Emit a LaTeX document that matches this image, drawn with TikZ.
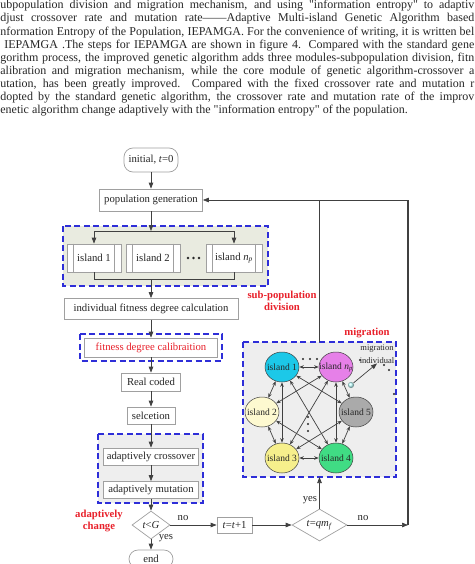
\documentclass[tikz,border=0pt]{standalone}
\usepackage{fontspec}
\setmainfont{Liberation Serif}
\usetikzlibrary{arrows.meta,shapes.geometric}
\definecolor{boxline}{HTML}{A0A0A0}
\definecolor{arrowgray}{HTML}{404040}
\definecolor{txt}{HTML}{262626}
\definecolor{dashblue}{HTML}{2E2ED8}
\definecolor{labelred}{HTML}{E8202A}
\definecolor{subfill}{HTML}{E9EBE0}
\definecolor{greyfill}{HTML}{EEEEEE}
\definecolor{isla}{HTML}{1CC8E8}
\definecolor{islb}{HTML}{FDF9D0}
\definecolor{islc}{HTML}{F6EF8C}
\definecolor{isld}{HTML}{40DC84}
\definecolor{isle}{HTML}{AAAAAA}
\definecolor{islnp}{HTML}{E680E8}
\newcommand{\boxfont}{\fontsize{10.7}{12}\selectfont}
\newcommand{\parfont}{\fontsize{12}{13}\selectfont}
\newcommand{\isltxt}[1]{\makebox[0pt]{#1}}
\newcommand{\np}{\textit{n}\textsubscript{\textit{p}}}
\tikzset{
  box/.style={draw=boxline, fill=white, font=\boxfont, text=txt, inner sep=0pt},
  term/.style={box, rounded corners=9pt},
  decide/.style={box, diamond, aspect=1.6},
  isl/.style={box, minimum height=28pt},
  flow/.style={draw=arrowgray, -{Triangle[length=6pt,width=4.5pt]}},
  gflow/.style={draw=arrowgray, {Stealth[length=4.5pt,width=3.5pt]}-{Stealth[length=4.5pt,width=3.5pt]}},
  bluedash/.style={draw=dashblue, line width=1.4pt, dash pattern=on 6pt off 3.5pt},
  redlbl/.style={font=\boxfont\bfseries, text=labelred, align=center, inner sep=0pt},
  lbl/.style={font=\boxfont, text=txt, inner sep=0pt},
  ellip/.style={ellipse, draw=arrowgray, line width=0.5pt, minimum width=34pt, minimum height=30pt, inner sep=0pt, font=\fontsize{9.5}{10}\selectfont, text=txt},
  partext/.style={anchor=west, inner sep=0pt, font=\parfont, text=txt}
}
\begin{document}
\begin{tikzpicture}[x=1pt, y=-1pt, line width=0.7pt]
\useasboundingbox (0,0) rectangle (474,564);
% text of the page above the figure
\node[partext] (par1) at (0,6) {\makebox[474pt][s]{ubpopulation division and migration mechanism, and using \textquotedbl information entropy\textquotedbl{} to adaptiv}};
\node[partext] (par2) at (0,19.1) {\makebox[474pt][s]{djust crossover rate and mutation rate——Adaptive Multi-island Genetic Algorithm based}};
\node[partext] (par3) at (0,32.2) {\makebox[474pt][s]{nformation Entropy of the Population, IEPAMGA. For the convenience of writing, it is written bel}};
\node[partext] (par4) at (4,45.3) {\makebox[470pt][s]{IEPAMGA .The steps for IEPAMGA are shown in figure 4. Compared with the standard gene}};
\node[partext] (par5) at (0,58.4) {\makebox[474pt][s]{gorithm process, the improved genetic algorithm adds three modules-subpopulation division, fitn}};
\node[partext] (par6) at (0,71.5) {\makebox[474pt][s]{alibration and migration mechanism, while the core module of genetic algorithm-crossover a}};
\node[partext] (par7) at (0,84.6) {\makebox[474pt][s]{utation, has been greatly improved. Compared with the fixed crossover rate and mutation r}};
\node[partext] (par8) at (0,97.7) {\makebox[474pt][s]{dopted by the standard genetic algorithm, the crossover rate and mutation rate of the improv}};
\node[partext] (par9) at (0,110.8) {enetic algorithm change adaptively with the \textquotedbl information entropy\textquotedbl{} of the population.};
%
\node[term, minimum width=54pt, minimum height=24pt] (init) at (151,160) {initial, \textit{t}=0};
\node[box, minimum width=103pt, minimum height=22pt] (popgen) at (151,200) {population generation};
\draw[flow] (init) -- (popgen);
% sub-population division
\draw[bluedash, fill=subfill] (63,226) rectangle (268,286);
\node[isl, minimum width=54pt] (isl1) at (94,258) {island 1};
\node[isl, minimum width=54pt] (isl2) at (153,258) {island 2};
\node[isl, minimum width=56pt] (islnp) at (234,258) {island \np};
\foreach \n in {isl1,isl2,islnp}{
  \draw[boxline, line width=0.6pt] ([xshift=7pt]\n.north west) -- ([xshift=7pt]\n.south west);
  \draw[boxline, line width=0.6pt] ([xshift=-7pt]\n.north east) -- ([xshift=-7pt]\n.south east);
}
\foreach \x in {188,193.5,199} \fill[txt] (\x,258) circle (1.3);
\coordinate (brtop) at (151,231);
\coordinate (brbot) at (151,279);
\draw[flow] (popgen) -- (brtop);
\draw[arrowgray] (isl1.north |- brtop) -- (islnp.north |- brtop);
\draw[flow] (isl1.north |- brtop) -- (isl1.north);
\draw[flow] (islnp.north |- brtop) -- (islnp.north);
\draw[arrowgray] (isl1.south) -- (isl1.south |- brbot) -- (islnp.south |- brbot) -- (islnp.south);
\node[redlbl] (sublbl) at (282,300.5) {sub-population\\division};
%
\node[box, minimum width=174pt, minimum height=21pt] (indiv) at (151,309) {individual fitness degree calculation};
\draw[flow] (brbot) -- (indiv);
\draw[bluedash, fill=white] (80,334) rectangle (222,361);
\node[box, text=labelred, minimum width=133pt, minimum height=19pt] (calib) at (151,347.5) {fitness degree calibraition};
\draw[flow] (indiv) -- (calib);
\node[box, minimum width=59pt, minimum height=18pt] (real) at (151,382) {Real coded};
\node[box, minimum width=48pt, minimum height=17pt] (sel) at (151,415.5) {selcetion};
\draw[flow] (calib) -- (real);
\draw[flow] (real) -- (sel);
% adaptive change
\draw[bluedash, fill=greyfill] (98,434) rectangle (203,503);
\node[box, minimum width=95pt, minimum height=17pt] (cross) at (151,456.5) {adaptively crossover};
\node[box, minimum width=95pt, minimum height=17pt] (mut) at (151,490) {adaptively mutation};
\draw[flow] (sel) -- (cross);
\draw[flow] (cross) -- (mut);
\node[redlbl] (adlbl) at (99,521) {adaptively\\change};
\node[decide, minimum width=38pt, minimum height=28pt] (tg) at (151,525) {\textit{t}<\textit{G}};
\draw[flow] (mut) -- (tg);
\node[term, minimum width=44pt, minimum height=18pt] (end) at (151,559) {end};
\draw[flow] (tg) -- (end);
\node[lbl] (yes1) at (166,538) {yes};
\node[box, minimum width=35pt, minimum height=16pt] (tinc) at (234.5,525) {\textit{t}=\textit{t}+1};
\draw[flow] (tg) -- (tinc);
\node[lbl] (no1) at (183,518) {no};
\node[decide, minimum width=55pt, minimum height=32pt] (qmf) at (319.5,525) {\textit{t}=\textit{qm}\textsubscript{\textit{f}}};
\draw[flow] (tinc) -- (qmf);
% feedback to population generation
\coordinate (fbcorner) at (408,525);
\coordinate (fbtop) at (408,200);
\draw[flow] (qmf) -- (fbcorner);
\node[lbl] (no2) at (363,518) {no};
\draw[arrowgray, line width=1.1pt] (fbcorner) -- (fbtop);
\draw[flow] (fbtop) -- (popgen);
% migration
\draw[bluedash, fill=greyfill] (243,342) rectangle (396,477);
\node[redlbl] (miglbl) at (367,333) {migration};
\coordinate (migtop) at (319.5,342);
\coordinate (migbot) at (319.5,477);
\draw[arrowgray] (migtop) -- (migtop |- fbtop);
\draw[flow] (qmf) -- (migbot);
\node[lbl] (yes2) at (310,500) {yes};
\node[ellip, fill=isla] (e1) at (282,367) {\isltxt{island 1}};
\node[ellip, fill=islnp] (enp) at (336,367) {\isltxt{island \np}};
\node[ellip, fill=islb] (e2) at (262,412) {\isltxt{island 2}};
\node[ellip, fill=isle] (e5) at (356,412) {\isltxt{island 5}};
\node[ellip, fill=islc] (e3) at (282,458) {\isltxt{island 3}};
\node[ellip, fill=isld] (e4) at (336,458) {\isltxt{island 4}};
\foreach \a/\b in {e1/enp,e1/e2,e1/e3,e1/e4,e1/e5,enp/e2,enp/e3,enp/e4,enp/e5,e2/e3,e2/e4,e5/e3,e5/e4,e3/e4}
  \draw[gflow] (\a) -- (\b);
\foreach \x in {303,310,317} \fill[txt] (\x,359) circle (1.1);
\foreach \y in {417,424,431} \fill[txt] (308,\y) circle (1.1);
\foreach \x/\y in {360,384/365,389/370,394} \fill[txt] (\x,\y) circle (1.1);
\node[lbl, font=\fontsize{8.5}{12.5}\selectfont, align=center] (migind) at (377,354) {migration\\individual};
\node[circle, shading=ball, ball color=cyan!25, minimum size=6pt, inner sep=0pt] (sph) at (351,385) {};
\draw[arrowgray, -{Triangle[length=6pt,width=4.5pt]}] (sph) -- (migind.south);
\end{tikzpicture}
\end{document}
